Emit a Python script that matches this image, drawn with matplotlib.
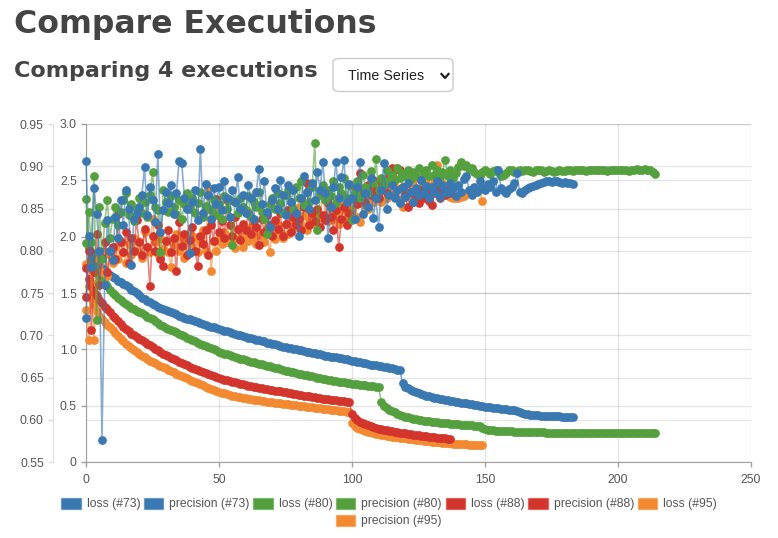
import numpy as np
import matplotlib
matplotlib.use("Agg")
from matplotlib import pyplot as plt
from matplotlib.patches import Patch, FancyBboxPatch
from matplotlib.lines import Line2D
from matplotlib.transforms import blended_transform_factory

W, H = 778, 538

# loss / precision per epoch for the four executions
loss_73 = [2.67, 1.95, 1.86, 1.81, 1.77, 1.74, 1.72, 1.70, 1.68, 1.66,
           1.64, 1.63, 1.61, 1.60, 1.58, 1.57, 1.55, 1.53, 1.52, 1.50,
           1.48, 1.46, 1.45, 1.43, 1.42, 1.40, 1.39, 1.38, 1.37, 1.36,
           1.35, 1.34, 1.33, 1.32, 1.31, 1.30, 1.29, 1.28, 1.27, 1.265,
           1.26, 1.25, 1.24, 1.23, 1.225, 1.22, 1.21, 1.20, 1.195, 1.19,
           1.18, 1.17, 1.165, 1.16, 1.15, 1.145, 1.14, 1.13, 1.125, 1.12,
           1.11, 1.105, 1.10, 1.09, 1.085, 1.08, 1.075, 1.07, 1.06, 1.055,
           1.05, 1.045, 1.04, 1.03, 1.025, 1.02, 1.015, 1.01, 1.005, 1.00,
           0.995, 0.99, 0.985, 0.98, 0.975, 0.97, 0.965, 0.96, 0.955, 0.95,
           0.945, 0.94, 0.935, 0.93, 0.93, 0.925, 0.92, 0.915, 0.91, 0.905,
           0.90, 0.895, 0.89, 0.885, 0.88, 0.875, 0.87, 0.865, 0.86, 0.858,
           0.855, 0.85, 0.845, 0.84, 0.835, 0.83, 0.825, 0.82, 0.816,
           0.70, 0.67, 0.655, 0.64, 0.63, 0.62, 0.61, 0.60, 0.595, 0.588, 0.582,
           0.577, 0.572, 0.567, 0.562, 0.557, 0.552, 0.548, 0.544, 0.540, 0.536,
           0.532, 0.528, 0.524, 0.520, 0.516, 0.512, 0.508, 0.504, 0.500, 0.496,
           0.492, 0.488, 0.485, 0.482, 0.479, 0.476, 0.473, 0.470, 0.467, 0.464,
           0.461, 0.458, 0.455, 0.445, 0.435, 0.428, 0.424, 0.421, 0.418, 0.416,
           0.414, 0.412, 0.410, 0.409, 0.408, 0.407, 0.406, 0.405, 0.404, 0.403,
           0.402, 0.401, 0.400, 0.400]

precision_73 = [0.72, 0.817, 0.781, 0.874, 0.844, 0.80, 0.576, 0.759, 0.836, 0.80,
                0.789, 0.84, 0.815, 0.86, 0.83, 0.872, 0.85, 0.783, 0.838, 0.845,
                0.852, 0.866, 0.899, 0.842, 0.875, 0.86, 0.834, 0.915, 0.822, 0.848,
                0.87, 0.857, 0.878, 0.843, 0.868, 0.906, 0.904, 0.862, 0.85, 0.797,
                0.858, 0.872, 0.836, 0.921, 0.845, 0.879, 0.866, 0.838, 0.874, 0.855,
                0.876, 0.848, 0.882, 0.862, 0.84, 0.872, 0.858, 0.887, 0.85, 0.866,
                0.845, 0.878, 0.862, 0.838, 0.87, 0.897, 0.855, 0.882, 0.846, 0.828,
                0.86, 0.874, 0.85, 0.884, 0.866, 0.842, 0.878, 0.858, 0.872, 0.845,
                0.817, 0.862, 0.888, 0.869, 0.85, 0.88, 0.86, 0.893, 0.872, 0.905,
                0.868, 0.815, 0.852, 0.876, 0.905, 0.863, 0.887, 0.907, 0.858, 0.879,
                0.862, 0.838, 0.875, 0.905, 0.844, 0.868, 0.852, 0.886, 0.839, 0.862,
                0.828, 0.872, 0.904, 0.85, 0.866, 0.878, 0.862, 0.872, 0.857, 0.876,
                0.864, 0.88, 0.87, 0.858, 0.874, 0.866, 0.884, 0.868, 0.877, 0.862,
                0.875, 0.87, 0.882, 0.864, 0.878, 0.871, 0.868, 0.88, 0.874, 0.865,
                0.878, 0.87, 0.885, 0.888, 0.872, 0.866, 0.876, 0.869, 0.882, 0.874,
                0.872, 0.879, 0.876, 0.882, 0.87, 0.896, 0.874, 0.871, 0.868, 0.873,
                0.876, 0.88, 0.892, 0.869, 0.868, 0.872, 0.874, 0.876, 0.877, 0.878,
                0.879, 0.88, 0.881, 0.882, 0.882, 0.881, 0.882, 0.882, 0.881, 0.88,
                0.881, 0.88, 0.88, 0.879]

loss_80 = [2.33, 1.90, 1.80, 1.73, 1.68, 1.65, 1.62, 1.59, 1.56, 1.53,
           1.50, 1.48, 1.46, 1.44, 1.42, 1.40, 1.385, 1.37, 1.355, 1.34,
           1.33, 1.32, 1.305, 1.29, 1.28, 1.265, 1.25, 1.235, 1.22, 1.205,
           1.19, 1.18, 1.17, 1.16, 1.15, 1.135, 1.125, 1.115, 1.10, 1.09,
           1.08, 1.07, 1.06, 1.05, 1.04, 1.03, 1.02, 1.01, 1.00, 0.99,
           0.98, 0.97, 0.963, 0.955, 0.948, 0.94, 0.932, 0.925, 0.918, 0.91,
           0.903, 0.897, 0.89, 0.884, 0.878, 0.872, 0.866, 0.86, 0.854, 0.848,
           0.842, 0.836, 0.83, 0.824, 0.818, 0.812, 0.806, 0.80, 0.795, 0.79,
           0.784, 0.779, 0.774, 0.769, 0.764, 0.759, 0.754, 0.749, 0.744, 0.74,
           0.735, 0.73, 0.726, 0.722, 0.718, 0.714, 0.71, 0.706, 0.702, 0.698,
           0.695, 0.692, 0.689, 0.686, 0.683, 0.68, 0.677, 0.674, 0.671, 0.668, 0.665,
           0.535, 0.50, 0.48, 0.46, 0.45, 0.44, 0.43, 0.42, 0.41, 0.40,
           0.395, 0.39, 0.385, 0.38, 0.376, 0.372, 0.368, 0.364, 0.361, 0.358,
           0.355, 0.352, 0.349, 0.346, 0.344, 0.342, 0.340, 0.338, 0.336, 0.334,
           0.332, 0.33, 0.328, 0.326, 0.324, 0.322, 0.32, 0.318, 0.30, 0.29,
           0.286, 0.283, 0.28, 0.278, 0.276, 0.275, 0.274, 0.273, 0.272, 0.271,
           0.27, 0.269, 0.268, 0.267, 0.266, 0.265, 0.264, 0.263, 0.263, 0.262,
           0.262, 0.262, 0.261, 0.261, 0.261, 0.26, 0.26, 0.26, 0.26, 0.26,
           0.26, 0.26, 0.259, 0.259, 0.259, 0.259, 0.259, 0.259, 0.259, 0.259,
           0.259, 0.259, 0.259, 0.258, 0.258, 0.258, 0.258, 0.258, 0.258, 0.258,
           0.258, 0.258, 0.258, 0.258, 0.258, 0.258, 0.258, 0.258, 0.258, 0.258,
           0.258, 0.258, 0.258, 0.258]

precision_80 = [0.809, 0.846, 0.81, 0.888, 0.718, 0.852, 0.79, 0.833, 0.86, 0.815,
                0.838, 0.852, 0.83, 0.846, 0.86, 0.868, 0.842, 0.855, 0.835, 0.85,
                0.862, 0.845, 0.858, 0.84, 0.866, 0.893, 0.852, 0.848, 0.799, 0.872,
                0.858, 0.846, 0.865, 0.852, 0.843, 0.86, 0.838, 0.855, 0.868, 0.85,
                0.862, 0.845, 0.857, 0.87, 0.84, 0.853, 0.866, 0.848, 0.86, 0.842,
                0.855, 0.838, 0.865, 0.85, 0.86, 0.807, 0.858, 0.845, 0.862, 0.852,
                0.848, 0.865, 0.84, 0.858, 0.852, 0.87, 0.846, 0.838, 0.82, 0.855,
                0.862, 0.85, 0.868, 0.856, 0.845, 0.866, 0.872, 0.858, 0.85, 0.876,
                0.862, 0.882, 0.854, 0.87, 0.858, 0.875, 0.928, 0.825, 0.866, 0.878,
                0.86, 0.872, 0.865, 0.882, 0.856, 0.875, 0.868, 0.886, 0.862, 0.878,
                0.836, 0.87, 0.882, 0.862, 0.89, 0.876, 0.868, 0.894, 0.88, 0.908,
                0.872, 0.886, 0.878, 0.895, 0.882, 0.89, 0.884, 0.898, 0.886, 0.892,
                0.888, 0.896, 0.885, 0.893, 0.889, 0.898, 0.884, 0.892, 0.896, 0.888,
                0.901, 0.89, 0.895, 0.887, 0.893, 0.907, 0.889, 0.895, 0.886, 0.892,
                0.899, 0.905, 0.90, 0.901, 0.897, 0.898, 0.893, 0.891, 0.889, 0.893,
                0.896, 0.893, 0.891, 0.894, 0.895, 0.893, 0.889, 0.89, 0.892, 0.895,
                0.896, 0.893, 0.894, 0.895, 0.894, 0.896, 0.895, 0.894, 0.893, 0.895,
                0.896, 0.895, 0.893, 0.894, 0.895, 0.894, 0.893, 0.894, 0.895, 0.894,
                0.894, 0.895, 0.895, 0.894, 0.895, 0.896, 0.895, 0.895, 0.894, 0.895,
                0.896, 0.895, 0.895, 0.896, 0.896, 0.895, 0.894, 0.895, 0.896, 0.896,
                0.895, 0.895, 0.896, 0.895, 0.894, 0.895, 0.896, 0.897, 0.896, 0.896,
                0.897, 0.896, 0.895, 0.893, 0.891]

loss_88 = [1.72, 1.62, 1.56, 1.51, 1.47, 1.44, 1.41, 1.38, 1.355, 1.33,
           1.30, 1.275, 1.25, 1.225, 1.20, 1.18, 1.16, 1.14, 1.125, 1.11,
           1.095, 1.08, 1.065, 1.05, 1.035, 1.02, 1.005, 0.99, 0.975, 0.962,
           0.95, 0.938, 0.926, 0.914, 0.902, 0.89, 0.879, 0.868, 0.857, 0.846,
           0.836, 0.826, 0.816, 0.806, 0.797, 0.788, 0.779, 0.77, 0.762, 0.754,
           0.746, 0.739, 0.732, 0.725, 0.718, 0.712, 0.706, 0.70, 0.694, 0.688,
           0.683, 0.678, 0.673, 0.668, 0.663, 0.658, 0.654, 0.65, 0.646, 0.642,
           0.638, 0.634, 0.63, 0.626, 0.622, 0.618, 0.614, 0.61, 0.606, 0.602,
           0.598, 0.594, 0.59, 0.586, 0.582, 0.578, 0.574, 0.57, 0.566, 0.562,
           0.558, 0.555, 0.552, 0.549, 0.546, 0.543, 0.54, 0.537, 0.534, 0.531,
           0.426, 0.39, 0.37, 0.355, 0.343, 0.333, 0.324, 0.316, 0.309, 0.303,
           0.297, 0.291, 0.286, 0.281, 0.277, 0.273, 0.269, 0.265, 0.261, 0.257,
           0.253, 0.249, 0.245, 0.242, 0.239, 0.236, 0.233, 0.23, 0.227, 0.224,
           0.221, 0.218, 0.216, 0.213, 0.211, 0.209, 0.207, 0.205]

precision_88 = [0.745, 0.80, 0.706, 0.775, 0.82, 0.76, 0.792, 0.81, 0.775, 0.80,
                0.805, 0.79, 0.844, 0.81, 0.798, 0.822, 0.786, 0.815, 0.80, 0.836,
                0.81, 0.795, 0.826, 0.805, 0.758, 0.818, 0.80, 0.83, 0.79, 0.782,
                0.812, 0.825, 0.798, 0.815, 0.776, 0.834, 0.806, 0.82, 0.795, 0.813,
                0.828, 0.80, 0.782, 0.818, 0.808, 0.825, 0.795, 0.83, 0.812, 0.861,
                0.822, 0.835, 0.815, 0.86, 0.83, 0.818, 0.84, 0.826, 0.813, 0.832,
                0.825, 0.845, 0.82, 0.835, 0.828, 0.807, 0.838, 0.822, 0.842, 0.83,
                0.818, 0.836, 0.826, 0.845, 0.817, 0.832, 0.848, 0.822, 0.84, 0.83,
                0.838, 0.825, 0.852, 0.88, 0.83, 0.845, 0.835, 0.85, 0.828, 0.842,
                0.836, 0.857, 0.84, 0.825, 0.848, 0.804, 0.838, 0.852, 0.83, 0.845,
                0.862, 0.874, 0.855, 0.892, 0.87, 0.858, 0.878, 0.866, 0.884, 0.872,
                0.862, 0.88, 0.875, 0.868, 0.89, 0.898, 0.895, 0.898, 0.896, 0.876,
                0.866, 0.852, 0.87, 0.858, 0.864, 0.856, 0.872, 0.862, 0.868, 0.859,
                0.854, 0.868, 0.874, 0.862, 0.87, 0.866, 0.872, 0.868]

loss_95 = [1.76, 1.56, 1.46, 1.39, 1.34, 1.30, 1.27, 1.24, 1.22, 1.20,
           1.17, 1.145, 1.12, 1.095, 1.07, 1.05, 1.03, 1.01, 0.99, 0.975,
           0.96, 0.945, 0.93, 0.915, 0.90, 0.888, 0.876, 0.864, 0.852, 0.84,
           0.83, 0.818, 0.806, 0.795, 0.784, 0.773, 0.762, 0.752, 0.742, 0.732,
           0.72, 0.71, 0.70, 0.69, 0.68, 0.67, 0.66, 0.65, 0.64, 0.63,
           0.622, 0.615, 0.608, 0.602, 0.596, 0.59, 0.585, 0.58, 0.575, 0.57,
           0.566, 0.562, 0.558, 0.554, 0.55, 0.546, 0.542, 0.538, 0.535, 0.532,
           0.529, 0.526, 0.523, 0.52, 0.517, 0.514, 0.511, 0.508, 0.505, 0.502,
           0.499, 0.496, 0.493, 0.49, 0.487, 0.484, 0.481, 0.478, 0.475, 0.472,
           0.469, 0.466, 0.463, 0.46, 0.458, 0.456, 0.453, 0.45, 0.447, 0.444,
           0.346, 0.32, 0.305, 0.293, 0.283, 0.275, 0.268, 0.262, 0.256, 0.25,
           0.245, 0.24, 0.236, 0.232, 0.228, 0.224, 0.221, 0.218, 0.215, 0.212,
           0.209, 0.206, 0.203, 0.20, 0.197, 0.194, 0.191, 0.188, 0.185, 0.182,
           0.18, 0.178, 0.176, 0.174, 0.172, 0.17, 0.168, 0.166, 0.164, 0.162,
           0.16, 0.158, 0.157, 0.156, 0.155, 0.154, 0.153, 0.152, 0.151, 0.15]

precision_95 = [0.73, 0.694, 0.78, 0.694, 0.762, 0.79, 0.775, 0.80, 0.77, 0.795,
                0.785, 0.805, 0.79, 0.812, 0.798, 0.785, 0.808, 0.795, 0.815, 0.80,
                0.81, 0.792, 0.822, 0.805, 0.798, 0.837, 0.81, 0.796, 0.815, 0.802,
                0.812, 0.798, 0.781, 0.808, 0.82, 0.80, 0.815, 0.792, 0.81, 0.822,
                0.805, 0.816, 0.798, 0.81, 0.825, 0.80, 0.874, 0.776, 0.812, 0.80,
                0.815, 0.808, 0.822, 0.81, 0.818, 0.812, 0.803, 0.825, 0.815, 0.805,
                0.82, 0.812, 0.828, 0.815, 0.808, 0.822, 0.818, 0.81, 0.826, 0.798,
                0.82, 0.814, 0.83, 0.822, 0.815, 0.832, 0.82, 0.835, 0.826, 0.84,
                0.852, 0.83, 0.842, 0.825, 0.838, 0.845, 0.832, 0.848, 0.84, 0.868,
                0.842, 0.835, 0.85, 0.838, 0.845, 0.832, 0.848, 0.855, 0.84, 0.85,
                0.848, 0.86, 0.84, 0.834, 0.855, 0.866, 0.85, 0.872, 0.858, 0.865,
                0.87, 0.858, 0.876, 0.862, 0.868, 0.88, 0.865, 0.874, 0.86, 0.852,
                0.87, 0.878, 0.866, 0.882, 0.874, 0.868, 0.885, 0.876, 0.88, 0.872,
                0.878, 0.886, 0.901, 0.89, 0.88, 0.872, 0.868, 0.864, 0.862, 0.863,
                0.862, 0.864, 0.865, 0.867, 0.868, 0.87, 0.871, 0.872, 0.873, 0.859]

run_ids = ["#73", "#80", "#88", "#95"]
colors = ["#3a78b1", "#55a03e", "#d3352d", "#f38a31"]
losses = [loss_73, loss_80, loss_88, loss_95]
precisions = [precision_73, precision_80, precision_88, precision_95]

x_ticks = [0, 50, 100, 150, 200, 250]
loss_ticks = [0, 0.5, 1.0, 1.5, 2.0, 2.5, 3.0]
loss_tick_labels = ["0", "0.5", "1.0", "1.5", "2.0", "2.5", "3.0"]
prec_ticks = [0.55, 0.60, 0.65, 0.70, 0.75, 0.80, 0.85, 0.90, 0.95]
prec_tick_labels = ["0.55", "0.60", "0.65", "0.70", "0.75", "0.80", "0.85", "0.90", "0.95"]

TXT = "#555555"
SANS = "Liberation Sans"

fig = plt.figure(figsize=(W / 100, H / 100), dpi=100)

# header
fig.text(14 / W, 1 - 32.7 / H, "Compare Executions", fontsize=22.7, fontweight="bold",
         family="DejaVu Sans", color="#444444", va="baseline")
fig.text(14 / W, 1 - 77.3 / H, "Comparing 4 executions", fontsize=16.0, fontweight="bold",
         family="DejaVu Sans", color="#444444", va="baseline")
box = FancyBboxPatch((333 / W, 1 - 91.5 / H), 120 / W, 33 / H,
                     boxstyle="round,pad=0,rounding_size=0.008",
                     transform=fig.transFigure, facecolor="white", edgecolor="#cccccc", lw=1)
fig.patches.append(box)
fig.text(348 / W, 1 - 76 / H, "Time Series", fontsize=10.3, family=SANS, color="#222222", va="center")
fig.add_artist(Line2D([441.5 / W, 445 / W, 448.5 / W], [1 - 74 / H, 1 - 78 / H, 1 - 74 / H],
                      color="#222222", lw=1.6, transform=fig.transFigure))

# chart: loss axis inside, precision axis outside
ax = fig.add_axes([86 / W, 1 - 462 / H, (751 - 86) / W, (462 - 124) / H])
ax2 = ax.twinx()

for i in range(3, -1, -1):
    c = colors[i]
    ep = np.arange(len(losses[i]))
    ax.plot(ep, losses[i], color=matplotlib.colors.to_rgba(c, 0.6), lw=1.2, marker="o",
            ms=6.3, mfc=c, mec=c, mew=0, clip_on=False, zorder=3 + (3 - i))
    ep2 = np.arange(len(precisions[i]))
    ax2.plot(ep2, precisions[i], color=matplotlib.colors.to_rgba(c, 0.6), lw=1.2, marker="o",
             ms=6.3, mfc=c, mec=c, mew=0, clip_on=False, zorder=3 + (3 - i))

ax.set_xlim(0, 250)
ax.set_ylim(0, 3.0)
ax2.set_ylim(0.55, 0.95)
ax.set_xticks(x_ticks)
ax.set_yticks(loss_ticks, labels=loss_tick_labels)
ax2.set_yticks(prec_ticks, labels=prec_tick_labels)

ax.grid(True, color="black", alpha=0.1, lw=1)
ax.set_axisbelow(True)
# precision gridlines drawn under the data (in the loss axes, at precision positions)
tr = blended_transform_factory(ax.transAxes, ax2.transData)
for p in prec_ticks:
    ax.add_line(Line2D([0, 1], [p, p], transform=tr, color="black", alpha=0.1, lw=1, zorder=1))

for s in ["top", "right"]:
    ax.spines[s].set_visible(False)
ax.spines["left"].set_color("#a0a0a0")
ax.spines["bottom"].set_color("#a0a0a0")
ax.tick_params(axis="both", colors="#a0a0a0", labelcolor=TXT, labelsize=8.7, length=3.6, width=1)
ax.tick_params(axis="y", pad=3)
ax.tick_params(axis="x", pad=5)

for s in ["top", "right", "bottom"]:
    ax2.spines[s].set_visible(False)
ax2.spines["left"].set_visible(True)
ax2.spines["left"].set_position(("outward", 23.8))
ax2.spines["left"].set_color("#dddddd")
ax2.yaxis.set_ticks_position("left")
ax2.tick_params(axis="y", colors="#dddddd", labelcolor=TXT, labelsize=8.7, length=3.6, width=1, pad=3)

for t in ax.get_xticklabels() + ax.get_yticklabels() + ax2.get_yticklabels():
    t.set_family(SANS)

# legend
handles = []
for i, rid in enumerate(run_ids):
    for kind in ["loss", "precision"]:
        handles.append(Patch(facecolor=colors[i], edgecolor=matplotlib.colors.to_rgba(colors[i], 0.5),
                             lw=1, label=f"{kind} ({rid})"))
leg_kw = dict(frameon=False, handlelength=1.6, handleheight=1.1, handletextpad=0.5,
              columnspacing=0.3, borderpad=0, borderaxespad=0, labelcolor=TXT,
              prop={"family": SANS, "size": 8.7}, loc="center")
fig.legend(handles=handles[:7], ncol=7, bbox_to_anchor=(0.5, 1 - 504 / H), **leg_kw)
fig.legend(handles=handles[7:], ncol=1, bbox_to_anchor=(0.5, 1 - 521 / H), **leg_kw)

fig.savefig("out.png", dpi=100)
